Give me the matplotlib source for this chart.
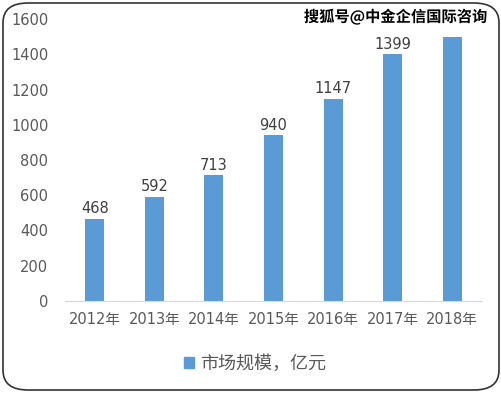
import matplotlib.pyplot as plt
import matplotlib.patheffects as pe
from matplotlib.patches import FancyBboxPatch, Patch

plt.rcParams['font.family'] = ['DejaVu Sans', 'Noto Sans CJK SC']

years = ["2012年", "2013年", "2014年", "2015年", "2016年", "2017年", "2018年"]
market = [468, 592, 713, 940, 1147, 1399, 1500]
# the 2018 label is hidden under the watermark in the source
shown_labels = ["468", "592", "713", "940", "1147", "1399", ""]
yticks = [0, 200, 400, 600, 800, 1000, 1200, 1400, 1600]

blue = "#5b9bd5"
gray = "#595959"

fig = plt.figure(figsize=(5.02, 3.93), dpi=100)
ax = fig.add_axes([65/502, 1-301/393, 417/502, 282/393])

x = range(len(years))
bars = ax.bar(x, market, width=0.32, color=blue, zorder=2)
ax.bar_label(bars, labels=shown_labels, padding=2, fontsize=10.5, color="#404040")

ax.set_xlim(-0.5, len(years) - 0.5)
ax.set_ylim(0, 1600)
ax.set_yticks(yticks)
ax.set_xticks(list(x))
ax.set_xticklabels(years, family=['DejaVu Sans', 'Noto Sans CJK SC'])
ax.tick_params(axis='both', length=0, colors=gray, labelsize=10.5)
ax.tick_params(axis='y', pad=12)
ax.tick_params(axis='x', pad=8)
for s in ["top", "right", "left"]:
    ax.spines[s].set_visible(False)
ax.spines["bottom"].set_color("#d9d9d9")

leg = fig.legend(handles=[Patch(color=blue)], labels=["市场规模，亿元"],
                 loc="center", bbox_to_anchor=(255/502, 1-364/393), frameon=False,
                 handlelength=0.55, handleheight=0.55, handletextpad=0.35,
                 prop={'family': ['Noto Sans CJK SC'], 'size': 13})
for t in leg.get_texts():
    t.set_color(gray)

# rounded frame around the whole picture
frame = FancyBboxPatch((3/502, 3/393), 496/502, 387/393,
                       boxstyle="round,pad=0,rounding_size=0.05",
                       transform=fig.transFigure, fill=False,
                       edgecolor="#333333", linewidth=1.2)
fig.patches.append(frame)

# watermark
fig.text(487/502, 1-17/393, "搜狐号@中金企信国际咨询", ha="right", va="center",
         fontsize=11, fontweight="bold", color="black", family=['Noto Sans CJK SC'],
         path_effects=[pe.withStroke(linewidth=2.5, foreground="white")])

fig.savefig("out.png", dpi=100)
